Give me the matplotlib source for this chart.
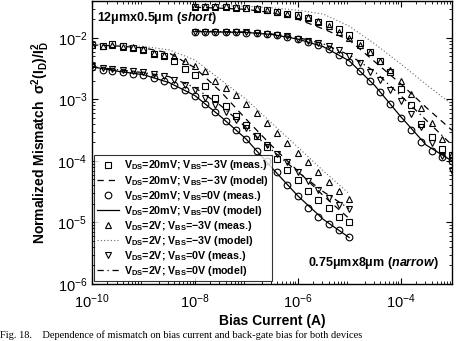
import numpy as np
import matplotlib
matplotlib.use("Agg")
import matplotlib.pyplot as plt

plt.rcParams['font.family'] = ['Liberation Sans', 'DejaVu Sans']
plt.rcParams['mathtext.fontset'] = 'custom'
plt.rcParams['mathtext.rm'] = 'Liberation Sans:bold'
plt.rcParams['mathtext.bf'] = 'Liberation Sans:bold'
plt.rcParams['mathtext.it'] = 'Liberation Sans:bold:italic'
plt.rcParams['mathtext.default'] = 'bf'

# ---- 0.75um x 8um (narrow) device, measured, bias current in A ----
bias_narrow = [1.0e-10, 1.6e-10, 2.5e-10, 4.0e-10, 6.3e-10,
               1.0e-9, 1.6e-9, 2.5e-9, 4.0e-9, 6.3e-9,
               1.0e-8, 1.6e-8, 2.5e-8, 4.0e-8, 6.3e-8,
               1.0e-7, 1.6e-7, 2.5e-7, 4.0e-7, 6.3e-7,
               1.0e-6, 1.6e-6, 2.5e-6, 4.0e-6, 6.3e-6, 1.0e-5]
narrow_20mV_m3V = [7.7e-3, 7.4e-3, 8.0e-3, 7.3e-3, 7.0e-3, 6.4e-3, 5.5e-3, 5.0e-3, 4.15e-3, 3.13e-3,
                   2.53e-3, 1.64e-3, 1.07e-3, 7.7e-4, 5.3e-4, 3.8e-4, 2.53e-4, 1.68e-4, 1.08e-4, 7.2e-5,
                   4.9e-5, 3.3e-5, 2.29e-5, 1.73e-5, 1.24e-5, 1.0e-5]
narrow_20mV_0V = [3.37e-3, 3.05e-3, 2.86e-3, 2.76e-3, 2.63e-3, 2.50e-3, 2.24e-3, 1.97e-3, 1.75e-3, 1.45e-3,
                  1.13e-3, 8.3e-4, 6.2e-4, 4.4e-4, 3.16e-4, 2.32e-4, 1.47e-4, 1.0e-4, 6.6e-5, 4.1e-5,
                  2.65e-5, 1.73e-5, 1.24e-5, 9.3e-6, 7.5e-6, 5.9e-6]
narrow_2V_m3V = [7.57e-3, 7.3e-3, 7.57e-3, 7.24e-3, 7.08e-3, 6.57e-3, 5.8e-3, 5.32e-3, 5.13e-3, 4.3e-3,
                 3.54e-3, 2.86e-3, 2.02e-3, 1.54e-3, 1.20e-3, 8.3e-4, 6.1e-4, 4.2e-4, 2.9e-4, 1.95e-4,
                 1.35e-4, 9.5e-5, 6.6e-5, 4.5e-5, 3.3e-5, 2.44e-5]
narrow_2V_0V = [3.47e-3, 3.28e-3, 3.10e-3, 2.99e-3, 2.88e-3, 2.78e-3, 2.63e-3, 2.38e-3, 2.10e-3, 1.75e-3,
                1.41e-3, 1.07e-3, 8.0e-4, 6.2e-4, 4.6e-4, 3.4e-4, 2.53e-4, 1.81e-4, 1.30e-4, 9.5e-5,
                6.6e-5, 4.75e-5, 3.4e-5, 2.48e-5, 1.95e-5, 1.68e-5]

# narrow device, model curves
model_bias_narrow = [1e-10, 3.16e-10, 1e-9, 3.16e-9, 1e-8, 3.16e-8, 1e-7, 3.16e-7, 1e-6, 3.16e-6, 1e-5]
narrow_model_20mV_m3V = [7.7e-3, 7.4e-3, 6.9e-3, 5.7e-3, 3.28e-3, 1.35e-3, 4.75e-4, 1.75e-4, 6.9e-5, 2.72e-5, 1.16e-5]
narrow_model_20mV_0V = [3.4e-3, 2.88e-3, 2.53e-3, 1.88e-3, 1.16e-3, 5.3e-4, 2.26e-4, 7.7e-5, 2.72e-5, 1.12e-5, 5.7e-6]
narrow_model_2V_m3V = [8.0e-3, 7.7e-3, 7.3e-3, 6.4e-3, 4.4e-3, 2.10e-3, 1.0e-3, 4.1e-4, 1.68e-4, 6.9e-5, 2.94e-5]
narrow_model_2V_0V = [3.4e-3, 3.05e-3, 2.73e-3, 2.35e-3, 1.56e-3, 8.0e-4, 3.5e-4, 1.5e-4, 6.65e-5, 3.16e-5, 1.68e-5]

# ---- 12um x 0.5um (short) device, measured ----
bias_short = [1.0e-8, 1.6e-8, 2.5e-8, 4.0e-8, 6.3e-8,
              1.0e-7, 1.6e-7, 2.5e-7, 4.0e-7, 6.3e-7,
              1.0e-6, 1.6e-6, 2.5e-6, 4.0e-6, 6.3e-6,
              1.0e-5, 1.6e-5, 2.5e-5, 4.0e-5, 6.3e-5,
              1.0e-4, 1.6e-4, 2.5e-4, 4.0e-4, 6.3e-4, 1.0e-3]
short_20mV_m3V = [3.22e-2, 3.18e-2, 3.16e-2, 3.14e-2, 3.1e-2, 3.05e-2, 2.94e-2, 2.83e-2, 2.66e-2, 2.5e-2,
                  2.35e-2, 2.08e-2, 1.83e-2, 1.68e-2, 1.38e-2, 1.12e-2, 8.4e-3, 6.0e-3, 4.18e-3, 2.76e-3,
                  1.49e-3, 8.0e-4, 3.95e-4, 2.41e-4, 1.56e-4, 1.25e-4]
short_20mV_0V = [1.26e-2, 1.25e-2, 1.24e-2, 1.236e-2, 1.23e-2, 1.22e-2, 1.19e-2, 1.15e-2, 1.10e-2, 1.05e-2,
                 9.5e-3, 8.7e-3, 7.7e-3, 6.57e-3, 5.22e-3, 4.0e-3, 2.94e-3, 1.97e-3, 1.34e-3, 8.3e-4,
                 5.07e-4, 3.16e-4, 2.05e-4, 1.45e-4, 1.18e-4, 1.0e-4]
short_2V_m3V = [3.28e-2, 3.28e-2, 3.28e-2, 3.28e-2, 3.2e-2, 3.13e-2, 3.02e-2, 2.9e-2, 2.68e-2, 2.44e-2,
                2.26e-2, 2.16e-2, 1.88e-2, 1.59e-2, 1.27e-2, 9.9e-3, 7.7e-3, 6.0e-3, 4.3e-3, 2.97e-3,
                1.97e-3, 1.25e-3, 7.35e-4, 4.18e-4, 2.32e-4, 1.30e-4]
short_2V_0V = [1.27e-2, 1.26e-2, 1.25e-2, 1.24e-2, 1.236e-2, 1.23e-2, 1.20e-2, 1.17e-2, 1.13e-2, 1.08e-2,
               9.8e-3, 9.1e-3, 8.3e-3, 7.4e-3, 6.4e-3, 5.03e-3, 3.9e-3, 2.76e-3, 2.05e-3, 1.41e-3,
               9.4e-4, 5.7e-4, 3.6e-4, 1.95e-4, 1.19e-4, 6.9e-5]

# short device, model curves
model_bias_short = [1e-8, 3.16e-8, 1e-7, 3.16e-7, 1e-6, 3.16e-6, 1e-5, 3.16e-5, 1e-4, 3.16e-4, 1e-3]
short_model_20mV_m3V = [3.16e-2, 3.05e-2, 2.92e-2, 2.57e-2, 2.02e-2, 1.4e-2, 9.3e-3, 4.1e-3, 1.81e-3, 7.4e-4, 3.16e-4]
short_model_20mV_0V = [1.27e-2, 1.25e-2, 1.23e-2, 1.14e-2, 9.6e-3, 7.2e-3, 4.26e-3, 1.68e-3, 5.3e-4, 1.81e-4, 1.0e-4]
short_model_2V_m3V = [3.4e-2, 3.34e-2, 3.28e-2, 3.1e-2, 2.83e-2, 2.44e-2, 1.56e-2, 8.0e-3, 3.8e-3, 1.75e-3, 8.3e-4]
short_model_2V_0V = [1.30e-2, 1.27e-2, 1.25e-2, 1.16e-2, 1.02e-2, 8.0e-3, 5.3e-3, 2.83e-3, 1.16e-3, 4.6e-4, 1.81e-4]

labels = [r'V$_{DS}$=20mV; V$_{BS}$=$-$3V (meas.)',
          r'V$_{DS}$=20mV; V$_{BS}$=$-$3V (model)',
          r'V$_{DS}$=20mV; V$_{BS}$=0V (meas.)',
          r'V$_{DS}$=20mV; V$_{BS}$=0V (model)',
          r'V$_{DS}$=2V; V$_{BS}$=$-$3V (meas.)',
          r'V$_{DS}$=2V; V$_{BS}$=$-$3V (model)',
          r'V$_{DS}$=2V; V$_{BS}$=0V (meas.)',
          r'V$_{DS}$=2V; V$_{BS}$=0V (model)']


fig = plt.figure(figsize=(4.74, 3.41), dpi=100)
ax = fig.add_axes([0.1941, 0.1672, 0.7595, 0.830])

mk = dict(linestyle='none', mfc='none', mec='black', mew=0.8, ms=4.8)
ln = dict(color='black', lw=0.9)

handles = []
for xb, xm, meas, model in [
        (bias_narrow, model_bias_narrow,
         [narrow_20mV_m3V, narrow_20mV_0V, narrow_2V_m3V, narrow_2V_0V],
         [narrow_model_20mV_m3V, narrow_model_20mV_0V, narrow_model_2V_m3V, narrow_model_2V_0V]),
        (bias_short, model_bias_short,
         [short_20mV_m3V, short_20mV_0V, short_2V_m3V, short_2V_0V],
         [short_model_20mV_m3V, short_model_20mV_0V, short_model_2V_m3V, short_model_2V_0V])]:
    h = []
    h += ax.plot(xb, meas[0], marker='s', **mk)
    h += ax.plot(xm, model[0], linestyle=(0, (5, 4)), **ln)
    h += ax.plot(xb, meas[1], marker='o', **mk)
    h += ax.plot(xm, model[1], linestyle='-', **ln)
    h += ax.plot(xb, meas[2], marker='^', **mk)
    h += ax.plot(xm, model[2], linestyle=(0, (1, 2)), color='0.4', lw=0.8)
    h += ax.plot(xb, meas[3], marker='v', **mk)
    h += ax.plot(xm, model[3], linestyle=(0, (5, 3, 1, 3)), **ln)
    handles = h

ax.set_xscale('log')
ax.set_yscale('log')
ax.set_xlim(1e-10, 1e-3)
ax.set_ylim(1e-6, 4e-2)
ax.set_xticks([1e-10, 1e-8, 1e-6, 1e-4])
ax.set_yticks([1e-6, 1e-5, 1e-4, 1e-3, 1e-2])
ax.tick_params(which='both', direction='in', top=True, right=True, labelsize=10.5)
ax.tick_params(which='major', length=4)
ax.tick_params(which='minor', length=2)
ax.tick_params(axis='x', pad=6)

for s in ax.spines.values():
    s.set_linewidth(1.0)

ax.set_xlabel('Bias Current (A)', fontsize=10, fontweight='bold', labelpad=2)
ax.set_ylabel(r'Normalized Mismatch  $\sigma^2(I_D)/I_D^2$', fontsize=10, fontweight='bold', labelpad=4)

leg = ax.legend(handles, labels, loc='lower left', bbox_to_anchor=(0.006, 0.01),
                fontsize=7.7, frameon=True, fancybox=False, edgecolor='black',
                handlelength=2.0, handletextpad=0.5, labelspacing=0.1,
                borderpad=0.3, borderaxespad=0.0)
leg.get_frame().set_linewidth(0.8)
for t in leg.get_texts():
    t.set_fontweight('bold')

ax.text(0.014, 0.94, r'12$\mu$mx0.5$\mu$m ($\mathit{short}$)', transform=ax.transAxes,
        fontsize=9, fontweight='bold', ha='left', va='center')
ax.text(0.964, 0.074, r'0.75$\mu$mx8$\mu$m ($\mathit{narrow}$)', transform=ax.transAxes,
        fontsize=9, fontweight='bold', ha='right', va='center')

fig.text(0.0, 0.003, 'Fig. 18.    Dependence of mismatch on bias current and back-gate bias for both devices',
         fontsize=7.5, family='Liberation Serif', ha='left', va='bottom')

fig.savefig('out.png', dpi=100)
